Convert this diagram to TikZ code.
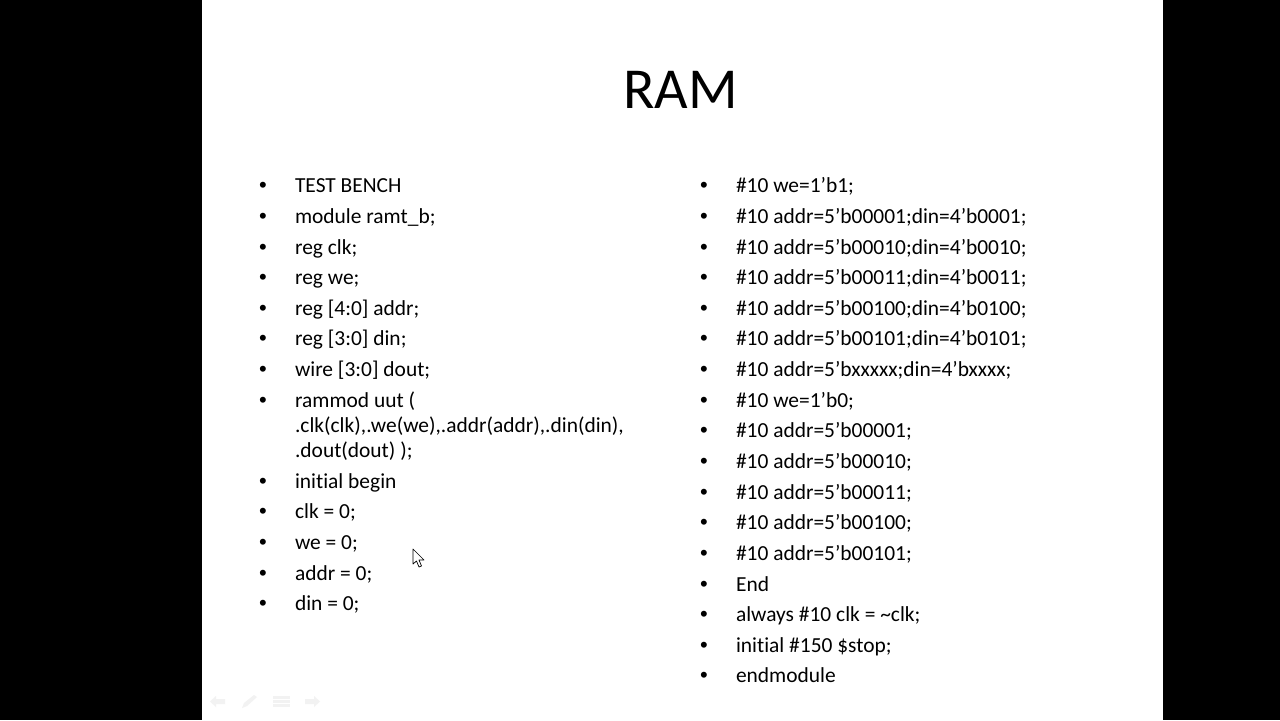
\documentclass[tikz,border=0pt]{standalone}
\usepackage{fontspec}
\setmainfont{Carlito}[Ligatures=NoCommon]
\newfontfamily\bulf{Liberation Sans}
\definecolor{tool}{gray}{0.95}
\tikzset{x=0.02cm,y=-0.02cm,
 item/.style={anchor=base west,inner sep=0pt,font=\fontsize{12.2pt}{14pt}\selectfont,text=black,align=left},
 bull/.style={anchor=base,inner sep=0pt,font=\bulf\fontsize{12.5pt}{13pt}\selectfont},
 ttl/.style={anchor=base,inner sep=0pt,font=\fontsize{33pt}{35pt}\selectfont},
 toolicon/.style={fill=tool,draw=none}}
\begin{document}
\begin{tikzpicture}
\useasboundingbox (0,0) rectangle (1280,720);
\fill[black] (0,0) rectangle (1280,720);
\fill[white] (202,0) rectangle (1163,720);
\node[ttl] (title) at (680.5,108) {RAM};
\foreach \y/\t/\n in {192/TEST BENCH/a1,223/module ramt\_b;/a2,254/reg clk;/a3,284/reg we;/a4,315/reg [4:0] addr;/a5,345/reg [3:0] din;/a6,376/wire [3:0] dout;/a7,407/rammod uut (/a8,432/.clk(clk){,}.we(we){,}.addr(addr){,}.din(din){,}/a8b,457/.dout(dout) );/a8c,488/initial begin/a9,518/clk = 0;/a10,549/we = 0;/a11,580.5/addr = 0;/a12,610/din = 0;/a13}
  {\node[item] (\n) at (294.7,\y) {\t};}
\foreach \y/\n in {192/b1,223/b2,254/b3,284/b4,315/b5,345/b6,376/b7,407/b8,488/b9,518/b10,549/b11,580/b12,610/b13}
  {\node[bull] (\n) at (263,\y+0.8) {•};}
\foreach \y/\t/\n in {192/{\#10 we=1’b1;}/c1,223/{\#10 addr=5’b00001;din=4’b0001;}/c2,254/{\#10 addr=5’b00010;din=4’b0010;}/c3,284/{\#10 addr=5’b00011;din=4’b0011;}/c4,315/{\#10 addr=5’b00100;din=4’b0100;}/c5,345/{\#10 addr=5’b00101;din=4’b0101;}/c6,376/{\#10 addr=5’bxxxxx;din=4’bxxxx;}/c7,407/{\#10 we=1’b0;}/c8,437/{\#10 addr=5’b00001;}/c9,468/{\#10 addr=5’b00010;}/c10,499/{\#10 addr=5’b00011;}/c11,529/{\#10 addr=5’b00100;}/c12,560/{\#10 addr=5’b00101;}/c13,591/End/c14,621/{always \#10 clk = \textasciitilde clk;}/c15,652/{initial \#150 \$stop;}/c16,682/endmodule/c17}
  {\node[item] (\n) at (735.7,\y) {\t};
   \node[bull] (d\n) at (704,\y+0.8) {•};}
\draw[black,fill=white,line width=0.4pt,line join=round] (413,549) -- (413,564) -- (416.5,561) -- (419,567) -- (421.5,566) -- (419,560) -- (424,560) -- cycle;
% slide-show toolbar
\fill[toolicon] (210,701.5) -- (216,696) -- (216,699) -- (225,699) -- (225,704) -- (216,704) -- (216,707) -- cycle;
\fill[toolicon] (242,708) -- (244,703) -- (254,695) -- (257,697) -- (247,706) -- cycle;
\fill[toolicon] (273,696) rectangle (290,699);
\fill[toolicon] (273,700) rectangle (290,703);
\fill[toolicon] (273,704) rectangle (290,707);
\fill[toolicon] (320,701.5) -- (314,696) -- (314,699) -- (305,699) -- (305,704) -- (314,704) -- (314,707) -- cycle;
\end{tikzpicture}
\end{document}
